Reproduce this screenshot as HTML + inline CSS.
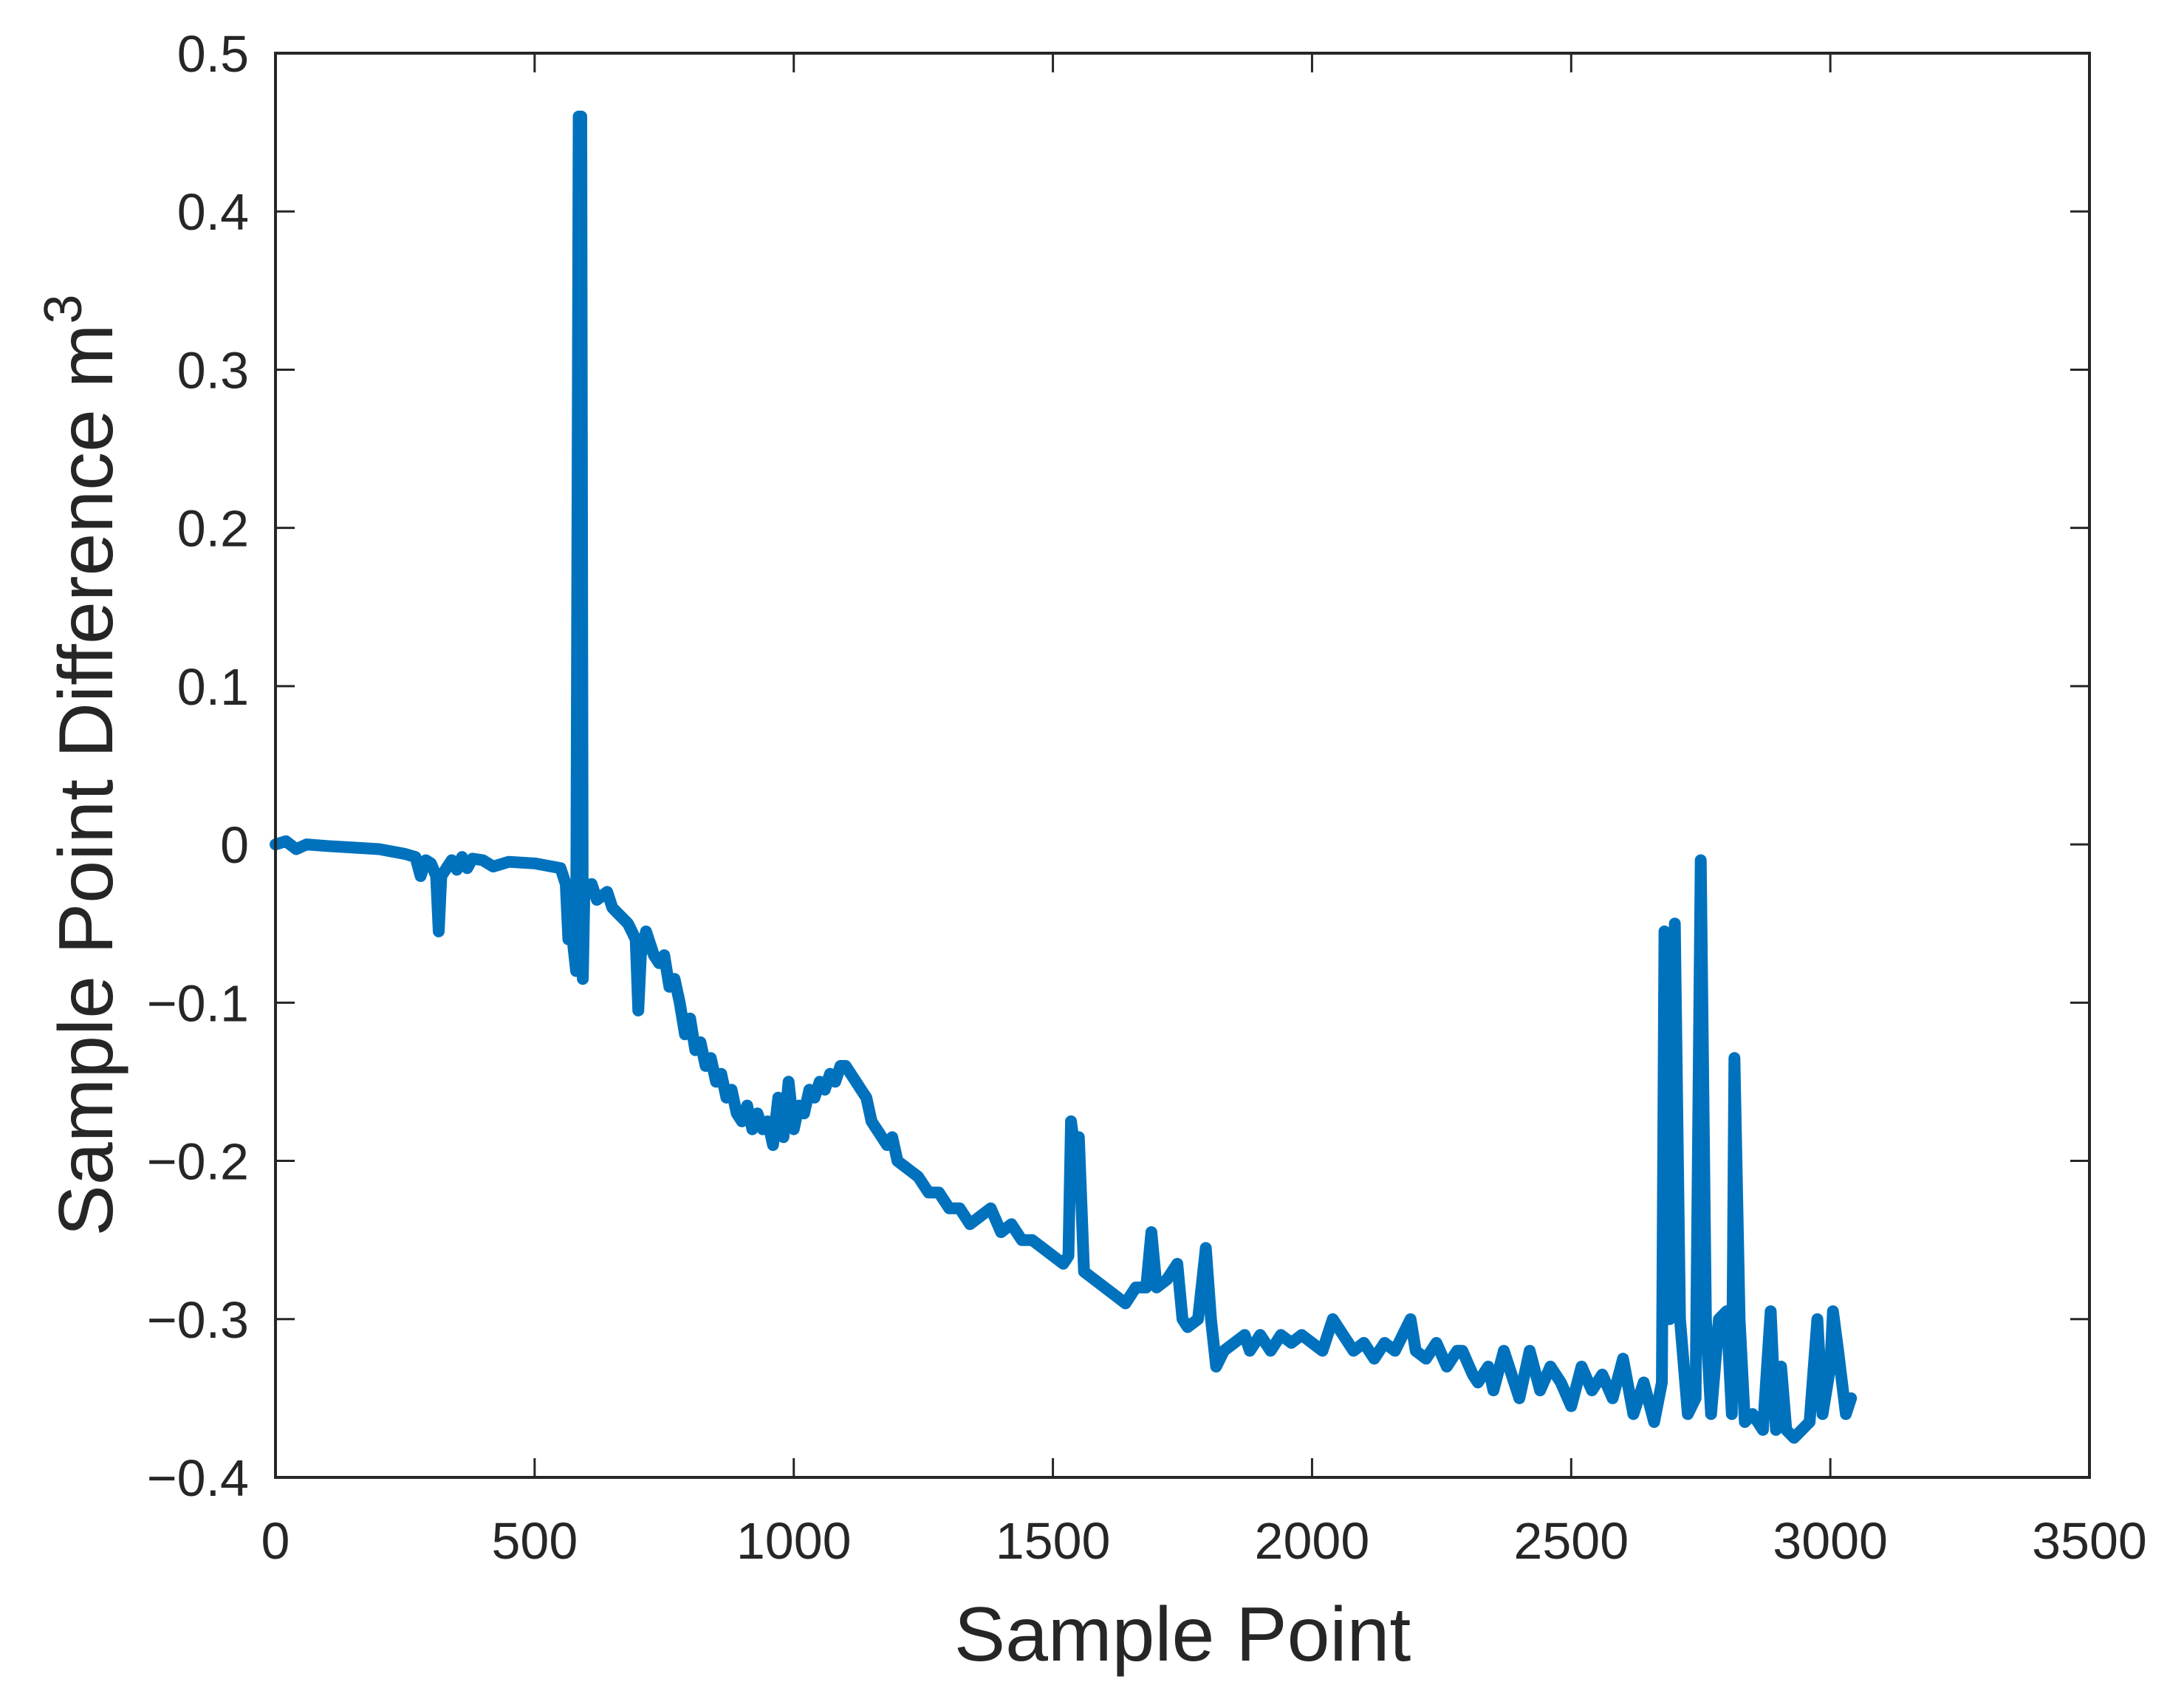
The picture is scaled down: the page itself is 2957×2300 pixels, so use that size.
<!DOCTYPE html>
<html><head><meta charset="utf-8"><style>
body{margin:0;background:#fff}
svg{display:block}
text{font-family:"Liberation Sans",Arial,sans-serif;fill:#262626}
</style></head><body>
<svg id="chart" width="2957" height="2300" viewBox="0 0 2957 2300" xmlns="http://www.w3.org/2000/svg">
<rect width="2957" height="2300" fill="#fff"/>
<g id="axes"></g>
<path id="series" fill="none" stroke="#0072BD" stroke-width="16" stroke-linejoin="round" stroke-linecap="round"/>
<rect x="373" y="72" width="2456" height="1928" fill="none" stroke="#262626" stroke-width="4"/>
<text x="1601" y="2248" font-size="104" text-anchor="middle">Sample Point</text>
<text transform="translate(152,1036) rotate(-90)" font-size="104" text-anchor="middle">Sample Point Difference m<tspan font-size="72" dy="-42">3</tspan></text>
</svg>
<script>
const xTicks=[0,500,1000,1500,2000,2500,3000,3500];
const yTicks=[0.5,0.4,0.3,0.2,0.1,0,-0.1,-0.2,-0.3,-0.4];
const samples=[0,20,40,60,100,150,200,250,270,280,290,300,310,315,320,340,350,360,370,380,400,420,450,500,550,560,565,570,580,585,590,593,596,610,620,640,650,665,680,695,700,705,715,730,740,750,760,770,780,790,800,810,820,830,840,850,860,870,880,890,900,910,920,930,940,950,960,970,980,990,1000,1010,1020,1030,1040,1050,1060,1070,1080,1090,1100,1110,1120,1130,1140,1150,1160,1170,1180,1190,1200,1220,1240,1260,1280,1300,1320,1340,1360,1380,1400,1420,1440,1460,1480,1500,1520,1530,1535,1545,1550,1560,1580,1600,1620,1640,1660,1680,1690,1700,1720,1740,1750,1760,1780,1795,1805,1815,1830,1850,1870,1880,1900,1920,1940,1960,1980,2000,2020,2040,2060,2080,2100,2120,2140,2160,2190,2200,2220,2240,2260,2280,2290,2310,2320,2340,2350,2370,2380,2400,2420,2440,2460,2480,2500,2520,2540,2560,2580,2600,2620,2640,2660,2675,2680,2690,2700,2710,2725,2740,2750,2760,2770,2785,2800,2810,2815,2825,2835,2850,2870,2885,2895,2905,2915,2930,2960,2975,2985,3000,3005,3015,3030,3040];
const values=[0,0.002,-0.003,0,-0.001,-0.002,-0.003,-0.006,-0.008,-0.02,-0.01,-0.012,-0.02,-0.055,-0.02,-0.01,-0.016,-0.008,-0.015,-0.009,-0.01,-0.014,-0.011,-0.012,-0.015,-0.025,-0.06,-0.05,-0.08,0.46,0.46,-0.085,-0.03,-0.025,-0.035,-0.03,-0.04,-0.045,-0.05,-0.06,-0.105,-0.07,-0.055,-0.07,-0.075,-0.07,-0.09,-0.085,-0.1,-0.12,-0.11,-0.13,-0.125,-0.14,-0.135,-0.15,-0.145,-0.16,-0.155,-0.17,-0.175,-0.165,-0.18,-0.17,-0.18,-0.175,-0.19,-0.16,-0.185,-0.15,-0.18,-0.165,-0.17,-0.155,-0.16,-0.15,-0.155,-0.145,-0.15,-0.14,-0.14,-0.145,-0.15,-0.155,-0.16,-0.175,-0.18,-0.185,-0.19,-0.185,-0.2,-0.205,-0.21,-0.22,-0.22,-0.23,-0.23,-0.24,-0.235,-0.23,-0.245,-0.24,-0.25,-0.25,-0.255,-0.26,-0.265,-0.26,-0.175,-0.2,-0.185,-0.27,-0.275,-0.28,-0.285,-0.29,-0.28,-0.28,-0.245,-0.28,-0.275,-0.265,-0.3,-0.305,-0.3,-0.255,-0.3,-0.33,-0.32,-0.315,-0.31,-0.32,-0.31,-0.32,-0.31,-0.315,-0.31,-0.315,-0.32,-0.3,-0.31,-0.32,-0.315,-0.325,-0.315,-0.32,-0.3,-0.32,-0.325,-0.315,-0.33,-0.32,-0.32,-0.335,-0.34,-0.33,-0.345,-0.32,-0.33,-0.35,-0.32,-0.345,-0.33,-0.34,-0.355,-0.33,-0.345,-0.335,-0.35,-0.325,-0.36,-0.34,-0.365,-0.34,-0.055,-0.3,-0.05,-0.3,-0.36,-0.35,-0.01,-0.3,-0.36,-0.3,-0.295,-0.36,-0.135,-0.3,-0.365,-0.36,-0.37,-0.295,-0.37,-0.33,-0.37,-0.375,-0.365,-0.3,-0.36,-0.33,-0.295,-0.32,-0.36,-0.35];
const L=373,R=2829,T=72,B=2000;
const xS=v=>L+(v-0)/(3500-0)*(R-L);
const yS=v=>T+(0.5-v)/(0.5-(-0.4))*(B-T);
const NS="http://www.w3.org/2000/svg";
const axes=document.getElementById('axes');
function mk(tag,attrs){const e=document.createElementNS(NS,tag);for(const k in attrs)e.setAttribute(k,attrs[k]);return e;}
xTicks.forEach(t=>{
  const x=xS(t);
  const a=mk('line',{x1:x,x2:x,y1:B,y2:B-26,stroke:'#262626','stroke-width':3});
  
  
  axes.appendChild(a);
  const b=mk('line',{x1:x,x2:x,y1:T,y2:T+26,stroke:'#262626','stroke-width':3});
  
  
  axes.appendChild(b);
  const tx=mk('text',{x:x,y:B+110,'font-size':70,'text-anchor':'middle'});
  
  
  tx.textContent=String(t);
  axes.appendChild(tx);
});
yTicks.forEach(t=>{
  const y=yS(t);
  const a=mk('line',{x1:L,x2:L+26,y1:y,y2:y,stroke:'#262626','stroke-width':3});
  
  
  axes.appendChild(a);
  const b=mk('line',{x1:R,x2:R-26,y1:y,y2:y,stroke:'#262626','stroke-width':3});
  
  
  axes.appendChild(b);
  const tx=mk('text',{x:L-36,y:y+25,'font-size':70,'text-anchor':'end'});
  
  
  tx.textContent=(t<0?'\u2212':'')+String(Math.abs(t));
  axes.appendChild(tx);
});
let d='';
samples.forEach((s,i)=>{d+=(i?'L':'M')+xS(s).toFixed(1)+' '+yS(values[i]).toFixed(1);});
document.getElementById('series').setAttribute('d',d);
</script>
</body></html>
